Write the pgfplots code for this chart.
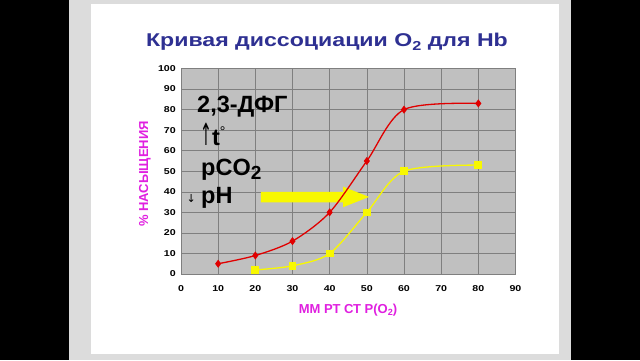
\documentclass[border=0pt]{standalone}
\usepackage{pgfplots}
\pgfplotsset{compat=1.18}
\usepackage{fontspec}
\setmainfont{Liberation Sans}
\newfontfamily\dejavu{DejaVu Sans}
\usepackage{graphicx}
\definecolor{titleblue}{HTML}{2E3092}
\definecolor{mag}{HTML}{E020E0}
\definecolor{plotbg}{HTML}{C0C0C0}
\definecolor{gridc}{HTML}{7F7F7F}
\definecolor{redc}{HTML}{E00000}
\definecolor{yel}{HTML}{F8F800}
\definecolor{framec}{HTML}{DCDCDC}
\newcommand{\hs}[1]{\scalebox{1.25}[1]{#1}}
\begin{document}
\begin{tikzpicture}[x=1pt,y=1pt]
\fill[black] (0,0) rectangle (640,360);
\fill[framec] (68.6,0) rectangle (570.6,360);
\fill[white] (90.6,6) rectangle (559,356.5);
\begin{axis}[at={(181pt,86pt)}, anchor=south west, scale only axis,
  width=334.5pt, height=205.5pt,
  xmin=0, xmax=90, ymin=0, ymax=100,
  axis background/.style={fill=plotbg},
  xtick={0,10,...,90}, ytick={0,10,...,100},
  xticklabels={\hs{0},\hs{10},\hs{20},\hs{30},\hs{40},\hs{50},\hs{60},\hs{70},\hs{80},\hs{90}},
  yticklabels={\hs{0},\hs{10},\hs{20},\hs{30},\hs{40},\hs{50},\hs{60},\hs{70},\hs{80},\hs{90},\hs{100}},
  grid=major, major grid style={gridc, line width=0.6pt},
  axis line style={gridc, line width=0.6pt},
  major tick length=0pt,
  tick label style={font=\bfseries\fontsize{8.5}{9}\selectfont, inner sep=0pt},
  xticklabel style={anchor=north, yshift=-11pt},
  yticklabel style={anchor=east, xshift=-5pt},
]
\fill[yel] (axis cs:21.5,40.0) -- (axis cs:43.6,40.0) -- (axis cs:43.6,42.5) -- (axis cs:50.6,37.5) -- (axis cs:43.6,32.5) -- (axis cs:43.6,34.9) -- (axis cs:21.5,34.9) -- cycle;
\addplot[redc, line width=1.3pt, smooth, mark=diamond*, mark size=3pt, mark options={solid, fill=redc}] coordinates {(10,5)(20,9)(30,16)(40,30)(50,55)(60,80)(80,83)};
\addplot[yel, line width=1.3pt, smooth, mark=square*, mark size=3.2pt, mark options={solid, fill=yel}] coordinates {(20,2)(30,4)(40,10)(50,30)(60,50)(80,53)};
\end{axis}
\node[anchor=base, text=titleblue, font=\bfseries\fontsize{18.5}{20}\selectfont, inner sep=0pt] at (327,314) {\hs{Кривая диссоциации O\raisebox{-0.25em}{\fontsize{13}{13}\selectfont 2} для Hb}};
\node[anchor=base west, inner sep=0pt, font=\bfseries\fontsize{23.5}{24}\selectfont] at (197,248) {2,3-ДФГ};
\node[anchor=base west, inner sep=0pt, font=\bfseries\fontsize{23.5}{24}\selectfont] at (200,215) {\scalebox{0.6}[1.3]{\dejavu\mdseries ↑}t\raisebox{0.35em}{\fontsize{14}{14}\selectfont\mdseries °}};
\node[anchor=base west, inner sep=0pt, font=\bfseries\fontsize{23.5}{24}\selectfont] at (201,185) {pCO\raisebox{-4.5pt}{\fontsize{19}{19}\selectfont 2}};
\node[anchor=base east, inner sep=0pt, font=\fontsize{11}{11}\selectfont] at (196,158) {\dejavu ↓};
\node[anchor=base west, inner sep=0pt, font=\bfseries\fontsize{23.5}{24}\selectfont] at (201,157) {pH};
\node[rotate=90, anchor=base, text=mag, inner sep=0pt, font=\bfseries\fontsize{13}{13}\selectfont] at (148,186) {\% НАСЫЩЕНИЯ};
\node[anchor=base, text=mag, inner sep=0pt, font=\bfseries\fontsize{13}{13}\selectfont] at (348,47) {ММ РТ СТ P(O\raisebox{-0.2em}{\fontsize{9}{9}\selectfont 2})};
\end{tikzpicture}
\end{document}
